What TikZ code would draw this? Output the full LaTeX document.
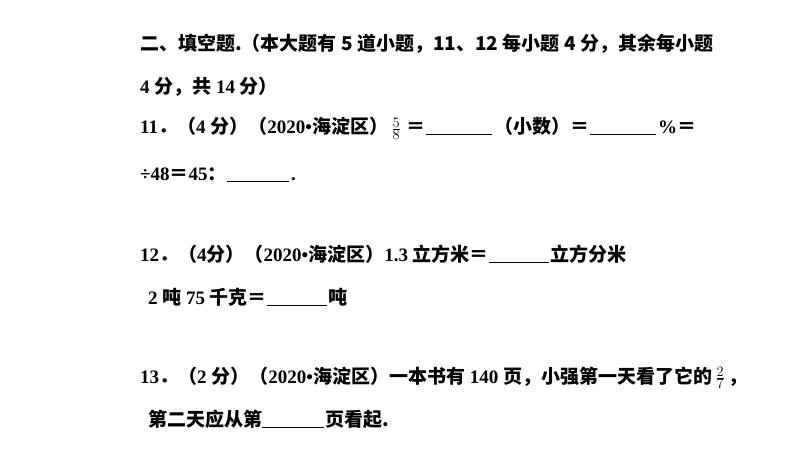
\documentclass[tikz,border=0pt]{standalone}
\usepackage{fontspec}
\setmainfont{Liberation Serif}
\newfontfamily\cjk{Noto Sans CJK SC}
\begin{document}
\begin{tikzpicture}[x=1pt,y=-1pt,
  txt/.style={anchor=base west,inner sep=0pt,font=\fontsize{19}{21}\selectfont\bfseries},
  frac/.style={anchor=base west,inner sep=0pt,font=\fontsize{19}{21}\selectfont},
  blank/.style={line width=1pt}]
\useasboundingbox[fill=white] (0,0) rectangle (800,449);
\node[txt] (l1) at (140,51) {\cjk 二、填空题.（本大题有 \textbf{5} 道小题，\textbf{11}、\textbf{12} 每小题 \textbf{4} 分，其余每小题};
\node[txt] (l2) at (140,94) {4 {\cjk 分，共} 14 {\cjk 分）}};
\node[txt] (l3a) at (140,134) {11{\cjk ．（}4 {\cjk 分）（}2020•{\cjk 海淀区）}};
\node[frac] (f1) at ([xshift=3pt]l3a.base east) {$\frac{5}{8}$};
\node[txt] (l3b) at ([xshift=5pt]f1.base east) {\cjk ＝};
\coordinate (u1a) at ([yshift=-1pt]l3b.base east); \coordinate (u1b) at ([xshift=66pt]u1a);
\draw[blank] (u1a) -- (u1b);
\node[txt] (l3c) at ([xshift=3pt]l3b.base east -| u1b) {\cjk （小数）＝};
\coordinate (u2a) at ([yshift=-1pt]l3c.base east); \coordinate (u2b) at ([xshift=66pt]u2a);
\draw[blank] (u2a) -- (u2b);
\node[txt] (l3d) at ([xshift=2pt]l3c.base east -| u2b) {\%{\cjk ＝}};
\node[txt] (l4) at (140,181) {÷48{\cjk ＝}45{\cjk ：}};
\coordinate (u3a) at ([yshift=-1pt]l4.base east); \coordinate (u3b) at ([xshift=62pt]u3a);
\draw[blank] (u3a) -- (u3b);
\node[txt] (l4b) at ([xshift=2pt]l4.base east -| u3b) {.};
\node[txt] (l5) at (140,261) {12{\cjk ．（}4{\cjk 分）（}2020•{\cjk 海淀区）}1.3 {\cjk 立方米＝}};
\coordinate (u4a) at ([yshift=-1pt]l5.base east); \coordinate (u4b) at ([xshift=60pt]u4a);
\draw[blank] (u4a) -- (u4b);
\node[txt] (l5b) at ([xshift=1pt]l5.base east -| u4b) {\cjk 立方分米};
\node[txt] (l6) at (148,304) {2 {\cjk 吨} 75 {\cjk 千克＝}};
\coordinate (u5a) at ([yshift=-1pt]l6.base east); \coordinate (u5b) at ([xshift=60pt]u5a);
\draw[blank] (u5a) -- (u5b);
\node[txt] (l6b) at ([xshift=1pt]l6.base east -| u5b) {\cjk 吨};
\node[txt] (l7) at (140,383) {13{\cjk ．（}2 {\cjk 分）（}2020•{\cjk 海淀区）一本书有} 140 {\cjk 页，小强第一天看了它的}};
\node[frac] (f2) at ([xshift=3pt]l7.base east) {$\frac{2}{7}$};
\node[txt] (l7b) at ([xshift=3pt]f2.base east) {\cjk ，};
\node[txt] (l8) at (148,426) {\cjk 第二天应从第};
\coordinate (u6a) at ([yshift=-1pt]l8.base east); \coordinate (u6b) at ([xshift=62pt]u6a);
\draw[blank] (u6a) -- (u6b);
\node[txt] (l8b) at ([xshift=1pt]l8.base east -| u6b) {\cjk 页看起.};
\end{tikzpicture}
\end{document}
